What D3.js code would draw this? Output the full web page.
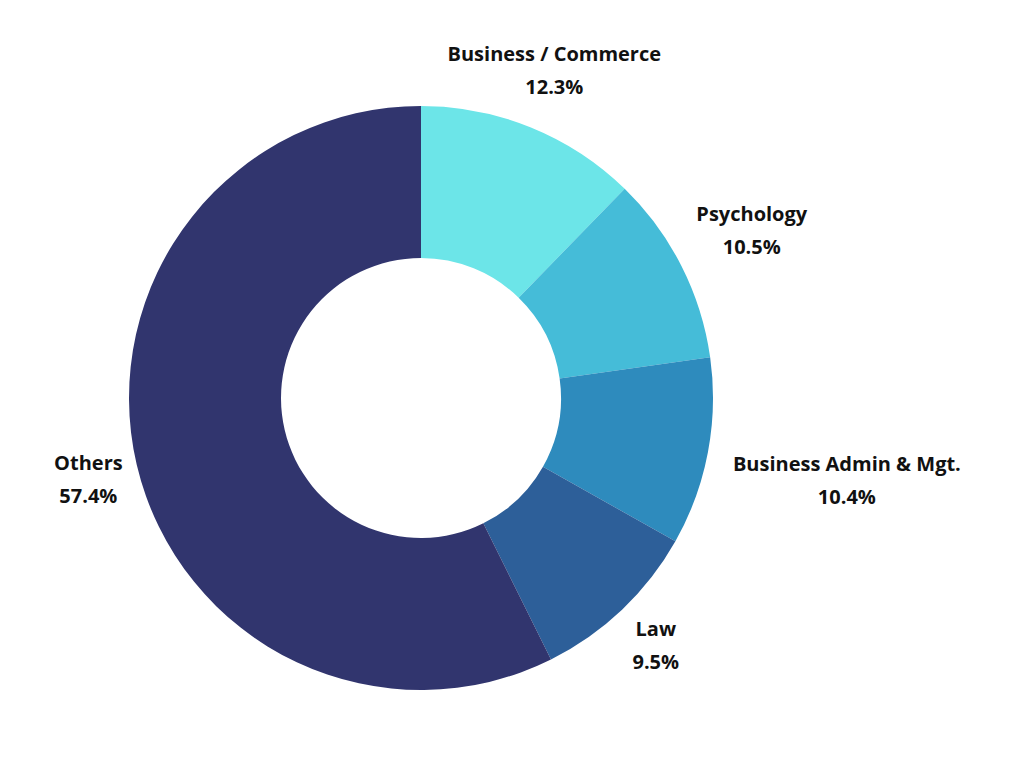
<!DOCTYPE html>
<html><head><meta charset="utf-8">
<script src="https://cdn.jsdelivr.net/npm/d3@7"></script>
<style>body{margin:0;background:#fff}</style>
</head><body><svg id="c" width="1024" height="768"></svg>
<script>
const categories = ["Business / Commerce","Psychology","Business Admin & Mgt.","Law","Others"];
const values = [12.3,10.5,10.4,9.5,57.4];
const colors = ["#6ce5e8","#45bcd8","#2e8bbd","#2d5f99","#31356e"];

const svg = d3.select("#c");
const cx=421, cy=398, R=292, r0=140;
const g = svg.append("g").attr("transform",`translate(${cx},${cy})`);
const pie = d3.pie().sort(null).value(d=>d.v);
const data = pie(categories.map((c,i)=>({c,v:values[i],col:colors[i]})));
const arc = d3.arc().innerRadius(r0).outerRadius(R);
g.selectAll("path").data(data).join("path").attr("d",arc).attr("fill",d=>d.data.col);

const labelArc = d3.arc().innerRadius(354).outerRadius(354);
const adj = [[0,0],[15,-8],[78,16],[-9,-10],[12,0]];
data.forEach((d,i)=>{
  const [x,y]=labelArc.centroid(d);
  const t=g.append("text").attr("text-anchor","middle")
    .attr("font-family","Open Sans, sans-serif").attr("font-weight","bold")
    .attr("font-size",20).attr("fill","#111")
    .attr("transform",`translate(${x+adj[i][0]},${y+adj[i][1]})`);
  t.append("tspan").attr("x",0).attr("y",-9).text(d.data.c);
  t.append("tspan").attr("x",0).attr("y",24).text(d.data.v.toFixed(1)+"%");
});
</script></body></html>
